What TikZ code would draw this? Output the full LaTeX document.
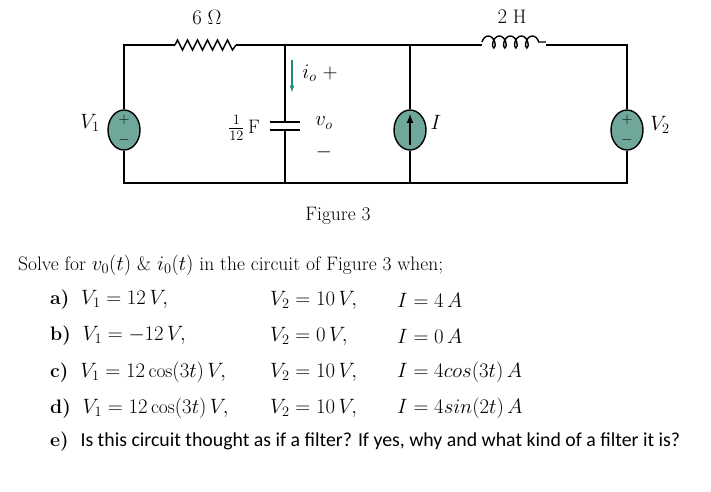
\documentclass[tikz,border=0pt]{standalone}
\usepackage{amsmath}
\usepackage{fontspec}
\newfontfamily\calib{Carlito}
\usetikzlibrary{shapes.geometric,decorations.pathmorphing}
\definecolor{srcteal}{HTML}{6FA89A}
\definecolor{arrteal}{HTML}{1F8A7A}
\tikzset{
  src/.style={ellipse, draw, line width=1.4pt, fill=srcteal, minimum width=32pt, minimum height=40pt, inner sep=0pt},
  wire/.style={line width=1.4pt},
  lbl/.style={inner sep=1pt},
  row/.style={anchor=west, inner sep=0pt}
}
\begin{document}
\begin{tikzpicture}[x=1pt,y=-1pt,font=\fontsize{19.5}{22}\selectfont]
\useasboundingbox (0,0) rectangle (711,491);

% corners of the circuit
\coordinate (tl) at (124,45);
\coordinate (bl) at (124,183);
\coordinate (tc) at (285,45);
\coordinate (bc) at (285,183);
\coordinate (ti) at (410,45);
\coordinate (bi) at (410,183);
\coordinate (tr) at (627,45);
\coordinate (br) at (627,183);
\coordinate (ra) at (175,45);
\coordinate (rb) at (236,45);
\coordinate (la) at (482,45);
\coordinate (lb) at (546,45);
\coordinate (cpa) at (285,122);
\coordinate (cpb) at (285,130);

% sources
\node[src] (v1) at (124,130) {};
\node[src] (is) at (410,130) {};
\node[src] (v2) at (627,130) {};
\node[font=\fontsize{15}{16}\selectfont] at (124,120) {$+$};
\node[font=\fontsize{15}{16}\selectfont] at (124,140) {$-$};
\node[font=\fontsize{15}{16}\selectfont] at (627,120) {$+$};
\node[font=\fontsize{15}{16}\selectfont] at (627,140) {$-$};
\draw[line width=2pt,-latex] (410,145) -- (410,114);

% wires
\draw[wire] (v1) -- (tl) -- (ra);
\draw[wire] (v1) -- (bl) -- (br) -- (v2);
\draw[wire] (rb) -- (la);
\draw[wire] (lb) -- (tr) -- (v2);
\draw[wire] (tc) -- (cpa);
\draw[wire] (cpb) -- (bc);
\draw[wire] (ti) -- (is) -- (bi);

% resistor
\draw[wire] (ra) -- ++(2.5,-5) \foreach \k in {1,...,5} { -- ++(5,10) -- ++(5,-10) } -- ++(5,10) -- (rb);
% inductor
\draw[wire, decorate, decoration={coil, aspect=0.6, segment length=11pt, amplitude=6pt}]
  (482,42) -- (546,42);
% capacitor
\draw[wire, line width=1.8pt] (270,122) -- (300,122);
\draw[wire, line width=1.8pt] (270,130) -- (300,130);

% current arrow and labels
\draw[arrteal, line width=1.2pt, -{latex}] (292,60) -- (292,92);
\node[lbl] (io) at (320,73) {$i_o$ $+$};
\node[lbl] (vo) at (324,123) {$v_o$};
\node[lbl] (mi) at (324,152) {$-$};
\node[lbl] (cl) at (244,128) {$\tfrac{1}{12}\,\mathrm{F}$};
\node[lbl] (il) at (436,122) {$I$};
\node[lbl] (v1l) at (90,123) {$V_1$};
\node[lbl] (v2l) at (660,125) {$V_2$};
\node[lbl] (rl) at (207,17) {$6\ \Omega$};
\node[lbl] (ll) at (512,17) {$2\ \mathrm{H}$};
\node[lbl] (fig) at (338,216) {Figure 3};

% question text
\node[row] (q0) at (18,265) {Solve for $v_0(t)$ \& $i_0(t)$ in the circuit of Figure 3 when;};
\foreach \y/\t/\a/\b/\c in {
  300/a)/{$V_1=12\,V,$}/{$V_2=10\,V,$}/{$I=4\,A$},
  336/b)/{$V_1=-12\,V,$}/{$V_2=0\,V,$}/{$I=0\,A$},
  372/c)/{$V_1=12\cos(3t)\,V,$}/{$V_2=10\,V,$}/{$I=4cos(3t)\,A$},
  408/d)/{$V_1=12\cos(3t)\,V,$}/{$V_2=10\,V,$}/{$I=4sin(2t)\,A$}} {
  \node[row] at (50,\y) {\textbf{\t}\ \ \a};
  \node[row] at (270,\y) {\b};
  \node[row] at (397,\y) {\c};
}
\node[row] (qe) at (50,442) {\textbf{e)}\ \ {\calib\fontsize{19.8}{22}\selectfont Is this circuit thought as if a filter? If yes, why and what kind of a filter it is?}};
\end{tikzpicture}
\end{document}
